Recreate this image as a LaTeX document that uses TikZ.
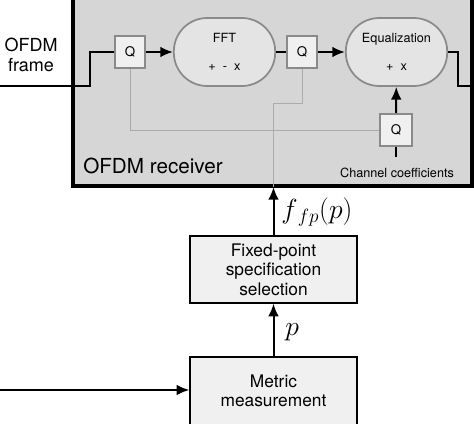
\documentclass[tikz,border=0pt]{standalone}
\usepackage{fontspec}
\setmainfont{TeX Gyre Heros}
\usepackage{tikz}
\usetikzlibrary{positioning}
\usetikzlibrary{calc}
\usetikzlibrary{arrows.meta}

\definecolor{rxgray}{HTML}{D6D6D6}
\definecolor{qfill}{HTML}{F0F0F0}
\definecolor{opfill}{HTML}{E4E4E4}
\definecolor{edgegray}{HTML}{8A8A8A}
\definecolor{taplines}{HTML}{ABABAB}

\begin{document}
\begin{tikzpicture}[
    x=0.75pt, y=-0.75pt,
    >={Latex[length=9.5pt,width=8pt]},
    every node/.style={inner sep=0pt},
    qbox/.style={draw=edgegray, line width=1.3pt, fill=qfill, minimum width=22.5pt, minimum height=24pt, font=\fontsize{10}{11}\selectfont},
    opbox/.style={draw=edgegray, line width=1.3pt, fill=opfill, rounded corners=25pt, minimum width=76pt, minimum height=51pt, align=center, font=\fontsize{9.5}{11}\selectfont},
    stagebox/.style={draw, line width=1.2pt, fill=qfill, minimum width=125pt, minimum height=50pt, align=center, font=\fontsize{13}{14.5}\selectfont},
    wire/.style={line width=1.5pt},
    tap/.style={draw=taplines, line width=0.7pt}
]
\useasboundingbox (0,0) rectangle (474,424);
% receiver frame
\draw[line width=2.3pt, fill=rxgray] (73,-10) rectangle (472,186);
\node[anchor=west, font=\fontsize{15.5}{17}\selectfont] (rxname) at (83,166) {OFDM receiver};

% processing chain
\node[qbox] (q1) at (130,52) {Q};
\node[opbox] (fft) at (224.5,52) {FFT\\[10pt]+\ \ -\ \ x};
\node[qbox] (q2) at (302,52) {Q};
\node[opbox] (eq) at (396.5,52) {Equalization\\[10pt]+\ \ x};
\node[qbox, minimum width=24.5pt, minimum height=24.5pt] (q3) at (396,130) {Q};
\node[font=\fontsize{9.5}{11}\selectfont] (chan) at (397,173) {Channel coefficients};

% adaptation loop
\node[stagebox] (fixsel) at (273.5,269.5) {Fixed-point\\specification\\selection};
\node[stagebox, minimum height=51pt] (metric) at (273.5,391) {Metric\\measurement};
\node[font=\fontsize{13.5}{15}\selectfont, align=center] (frame) at (31,55) {OFDM\\frame};

\coordinate (frin) at (0,86);
\coordinate (frout) at (474,86);
\coordinate (chin) at (396,157);
\coordinate (rxin) at (fixsel.north |- 0,187);
\coordinate (tapq2) at (273.5,103);
\coordinate (minin) at (0,390);

% gray tap lines
\draw[tap] (q1.south) |- (q3.west);
\draw[tap] (q2.south) |- (tapq2) -- (rxin);

% signal path
\draw[wire] (frin) -- (90,86) |- (q1.west);
\draw[wire, ->] (q1) -- (fft);
\draw[wire] (fft) -- (q2);
\draw[wire, ->] (q2) -- (eq);
\draw[wire] (eq.east) -| (458,86) -- (frout);
\draw[wire, ->] (q3) -- (eq);
\draw[wire] (chin) -- (q3.south);

\draw[wire, ->] (fixsel.north) -- (rxin);
\draw[wire, ->] (metric.north) -- (fixsel.south);
\draw[wire, ->] (minin) -- (metric.west |- minin);

\node[anchor=west, font=\fontsize{22}{24}\selectfont] (ffp) at (281,212) {$f_{\,fp}(p)$};
\node[anchor=west, font=\fontsize{22}{24}\selectfont] (plabel) at (285,332) {$p$};
\end{tikzpicture}
\end{document}
